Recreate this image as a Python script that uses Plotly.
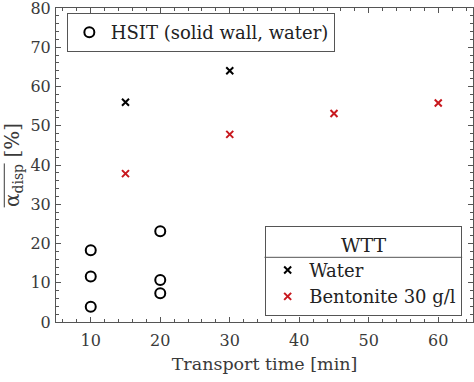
import plotly.graph_objects as go

# Data
hsit_x = [10, 10, 10, 20, 20, 20]
hsit_y = [18.3, 11.6, 3.9, 23.1, 10.7, 7.3]
water_x = [15, 30]
water_y = [56, 64]
bent_x = [15, 30, 45, 60]
bent_y = [37.8, 47.8, 53.1, 55.8]

x_ticks = [10, 20, 30, 40, 50, 60]
y_ticks = [0, 10, 20, 30, 40, 50, 60, 70, 80]

FONT = "DejaVu Serif"
TXT = "#3a3a3a"
AX = "#555"
fig = go.Figure()
fig.add_trace(go.Scatter(x=hsit_x, y=hsit_y, mode="markers", name="HSIT (solid wall, water)",
                         marker=dict(symbol="circle-open", size=10, color="black", line=dict(width=2)),
                         legend="legend"))
fig.add_trace(go.Scatter(x=water_x, y=water_y, mode="markers", name="Water",
                         marker=dict(symbol="x-thin-open", size=7, color="black", line=dict(width=2, color="black")),
                         legend="legend2"))
fig.add_trace(go.Scatter(x=bent_x, y=bent_y, mode="markers", name="Bentonite 30 g/l",
                         marker=dict(symbol="x-thin-open", size=7, color="#c8181e", line=dict(width=2, color="#c8181e")),
                         legend="legend2"))

axis_common = dict(showline=True, linecolor=AX, linewidth=1, mirror="allticks", ticks="inside",
                   ticklen=5, tickcolor=AX, showgrid=False, zeroline=False, automargin=False,
                   tickfont=dict(family=FONT, size=16, color=TXT))
fig.update_layout(
    width=474, height=382,
    margin=dict(l=56, r=1, t=8, b=60, autoexpand=False),
    paper_bgcolor="white", plot_bgcolor="white",
    font=dict(family=FONT, size=18, color="#222"),
    showlegend=True,
    xaxis=dict(range=[5, 65], tickvals=x_ticks, **axis_common, ticklabelstandoff=4,
               minor=dict(dtick=2, ticks="inside", ticklen=3, tickcolor=AX),
               title=dict(text="Transport time [min]", font=dict(family=FONT, size=17.5, color=TXT), standoff=8)),
    yaxis=dict(range=[0, 80], tickvals=y_ticks, **axis_common, ticklabeloverflow="allow",
               ticklabelstandoff=1,
               minor=dict(dtick=2, ticks="inside", ticklen=3, tickcolor=AX),
               title=dict(text="α<sub>disp</sub> [%]",
                          font=dict(family=FONT, size=20, color=TXT), standoff=12)),
    legend=dict(x=0.026, y=0.984, xanchor="left", yanchor="top", bgcolor="rgba(0,0,0,0)",
                bordercolor=AX, borderwidth=1, font=dict(family=FONT, size=18, color="#222"),
                itemwidth=33),
    legend2=dict(x=0.974, y=0.019, xanchor="right", yanchor="bottom", bgcolor="rgba(0,0,0,0)",
                 bordercolor=AX, borderwidth=1, font=dict(family=FONT, size=18, color="#222"),
                 title=dict(text="WTT", side="top center", font=dict(family=FONT, size=19, color="#222")),
                 itemwidth=33, tracegroupgap=0),
)
# overline over the alpha_disp symbol
fig.add_shape(type="line", xref="paper", yref="paper", x0=-0.124, x1=-0.124, y0=0.365, y1=0.505,
              line=dict(color=TXT, width=1))
# divider under the WTT legend title
fig.add_shape(type="line", xref="paper", yref="paper", x0=0.5, x1=0.974, y0=0.206, y1=0.206,
              line=dict(color=AX, width=1))
fig.write_html("out.html", config={"displayModeBar": False},
               post_script="document.body.style.margin='0';")
